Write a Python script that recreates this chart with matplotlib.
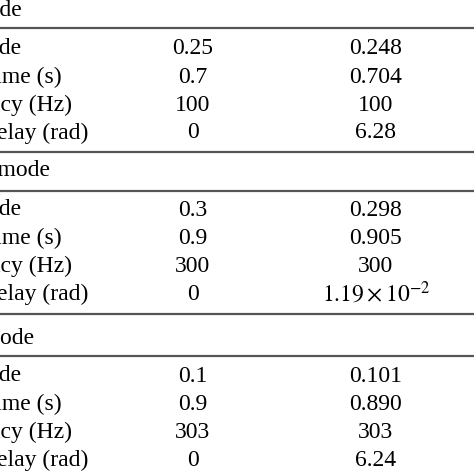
import matplotlib; matplotlib.use("Agg")
import matplotlib.pyplot as plt

HEADERS = ["First mode", "Second mode", "Third mode"]
PARAMS = ["Amplitude", "Damping time (s)", "Frequency (Hz)", "Phase delay (rad)"]
TRUE_VALS = [["0.25", "0.7", "100", "0"],
             ["0.3", "0.9", "300", "0"],
             ["0.1", "0.9", "303", "0"]]
EST_VALS = [["0.248", "0.704", "100", "6.28"],
            ["0.298", "0.905", "300", r"$1.19\times10^{-2}$"],
            ["0.101", "0.890", "303", "6.24"]]

# layout in pixel coordinates of the 474x474 crop
HEAD_Y = [10, 171, 338]
LINES = [28, 152, 191, 314, 356]
ROW_Y = [[48, 77, 105, 133], [210, 238, 266, 294], [376, 404, 432, 460]]
HEAD_RIGHT = [22, 50, 34]
PARAM_RIGHT = [22, 62, 72, 88]
COL1, COL2 = 193, 376

plt.rcParams["font.family"] = ["Liberation Serif"]
plt.rcParams["mathtext.fontset"] = "stix"
fig = plt.figure(figsize=(4.74, 4.74), dpi=100)
ax = fig.add_axes([0, 0, 1, 1])
ax.set_xlim(0, 474); ax.set_ylim(474, 0); ax.axis("off")
fs = 17
for y in LINES:
    ax.axhline(y, color="#555", lw=1.6)
for b in range(3):
    ax.text(HEAD_RIGHT[b], HEAD_Y[b], HEADERS[b], ha="right", va="center", fontsize=fs)
    for r in range(4):
        y = ROW_Y[b][r]
        ax.text(PARAM_RIGHT[r], y, PARAMS[r], ha="right", va="center", fontsize=fs)
        ax.text(COL1, y, TRUE_VALS[b][r], ha="center", va="center", fontsize=fs)
        ax.text(COL2, y, EST_VALS[b][r], ha="center", va="center", fontsize=fs)
fig.savefig("out.png", dpi=100)
